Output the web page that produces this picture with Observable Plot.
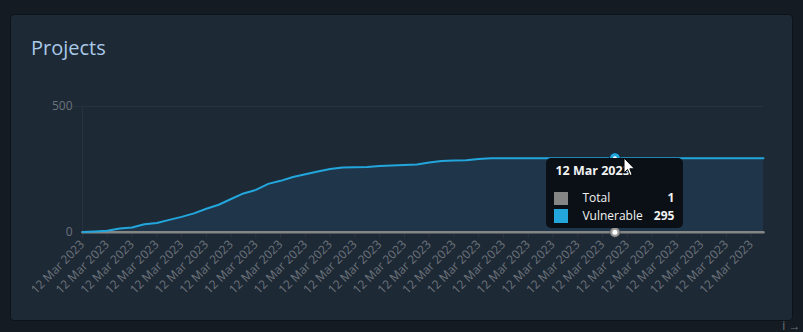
<!DOCTYPE html>
<html><head><meta charset="utf-8">
<script src="https://cdn.jsdelivr.net/npm/d3@7"></script>
<script src="https://cdn.jsdelivr.net/npm/@observablehq/plot@0.6"></script>
<style>
html,body{margin:0;padding:0;overflow:hidden}
::-webkit-scrollbar{display:none;width:0;height:0}
body{background:#141b23;width:803px;height:332px;position:relative;font-family:"Open Sans",sans-serif}
#card{position:absolute;left:10px;top:14px;width:781px;height:305px;background:#1e2936;border:1px solid #0d1319;border-radius:4px}
#title{position:absolute;left:31px;top:34px;font-size:20px;color:#a9c9e7;line-height:28px}
#chart{position:absolute;left:0;top:0;width:803px;height:332px;overflow:hidden}
#chart svg{display:block}
#tip{position:absolute;width:137px;height:70px;background:#0a1016;border-radius:5px;color:#f2f2f2;font-size:12px;line-height:14px}
#tip div{position:absolute;white-space:nowrap}
.sw{width:14px;height:13px}
#cursor{position:absolute}
</style>
</head><body>
<div id="card"></div>
<div id="title">Projects</div>
<div id="chart"></div>
<script>
// ---- data ----
const labels = ["12 Mar 2023","12 Mar 2023","12 Mar 2023","12 Mar 2023","12 Mar 2023","12 Mar 2023","12 Mar 2023","12 Mar 2023",
"12 Mar 2023","12 Mar 2023","12 Mar 2023","12 Mar 2023","12 Mar 2023","12 Mar 2023","12 Mar 2023","12 Mar 2023",
"12 Mar 2023","12 Mar 2023","12 Mar 2023","12 Mar 2023","12 Mar 2023","12 Mar 2023","12 Mar 2023","12 Mar 2023",
"12 Mar 2023","12 Mar 2023","12 Mar 2023","12 Mar 2023","12 Mar 2023","12 Mar 2023","12 Mar 2023","12 Mar 2023",
"12 Mar 2023","12 Mar 2023","12 Mar 2023","12 Mar 2023","12 Mar 2023","12 Mar 2023","12 Mar 2023","12 Mar 2023",
"12 Mar 2023","12 Mar 2023","12 Mar 2023","12 Mar 2023","12 Mar 2023","12 Mar 2023","12 Mar 2023","12 Mar 2023",
"12 Mar 2023","12 Mar 2023","12 Mar 2023","12 Mar 2023","12 Mar 2023","12 Mar 2023","12 Mar 2023","12 Mar 2023"];
const vulnerable = [2,4,7,16,20,33,38,50,62,76,94,110,133,155,169,193,205,220,231,242,252,258,259,260,264,266,268,270,278,284,286,287,
292,295,295,295,295,295,295,295,295,295,295,295,295,295,295,295,295,295,295,295,295,295,295,295];
const total = [1,1,1,1,1,1,1,1,1,1,1,1,1,1,1,1,1,1,1,1,1,1,1,1,1,1,1,1,1,1,1,1,
1,1,1,1,1,1,1,1,1,1,1,1,1,1,1,1,1,1,1,1,1,1,1,1];
const yTicks = [0, 500];
const xTickIdx = [0,2,4,6,8,10,12,14,16,18,20,22,24,26,28,30,32,34,36,38,40,42,44,46,48,50,52,54];
const hoverIndex = 43;
const seriesNames = ["Total", "Vulnerable"];
const seriesColors = ["#858585", "#22a6dc"];

const rows = labels.map((d, i) => ({i, label: d, v: vulnerable[i], t: total[i]}));
const hov = rows[hoverIndex];

const plot = Plot.plot({
  width: 803, height: 332,
  marginLeft: 82, marginRight: 40, marginTop: 106, marginBottom: 100,
  x: {domain: [0, labels.length - 1], axis: null},
  y: {domain: [0, 500], axis: null},
  style: {background: "transparent", fontFamily: "Open Sans, sans-serif", fontSize: "12px", color: "#6b737b"},
  marks: [
    Plot.ruleY([500], {x1: -0.75, x2: labels.length - 1, stroke: "#27323f", strokeWidth: 1}),
    Plot.ruleX([0], {y1: 0, y2: 500, stroke: "#27323f", strokeWidth: 1}),
    Plot.areaY(rows, {x: "i", y: "v", fill: "#1f3549", curve: "linear"}),
    Plot.axisX(xTickIdx, {tickRotate: -45, tickFormat: i => labels[i], tickSize: 6, tickPadding: 4, stroke: "#2a3542", fill: "#6d747b", fontSize: 12}),
    Plot.axisY(yTicks, {tickSize: 0, tickPadding: 10, fill: "#6b737b", fontSize: 12}),
    Plot.lineY(rows, {x: "i", y: "t", stroke: seriesColors[0], strokeWidth: 2.5}),
    Plot.lineY(rows, {x: "i", y: "v", stroke: seriesColors[1], strokeWidth: 2}),
    Plot.dot([hov], {x: "i", y: "v", r: 5.5, fill: seriesColors[1], stroke: "#0e2a40", strokeWidth: 1}),
    Plot.dot([hov], {x: "i", y: "v", r: 2, fill: "#ffffff"}),
    Plot.dot([hov], {x: "i", y: "t", r: 5, fill: "#9a9a9a", stroke: "#3a3a3a", strokeWidth: 0.5}),
    Plot.dot([hov], {x: "i", y: "t", r: 2.5, fill: "#ffffff"})
  ]
});
document.getElementById("chart").appendChild(plot);

// tooltip positioned from the scales
const sx = plot.scale("x").apply(hov.i);
const sy = plot.scale("y").apply(hov.v);
const tip = document.createElement("div");
tip.id = "tip";
tip.style.left = (sx - 68) + "px";
tip.style.top = sy + "px";
tip.innerHTML = `
  <div style="left:9px;top:6px;font-weight:700;font-size:12.5px">${hov.label}</div>
  <div class="sw" style="left:8px;top:34px;background:${seriesColors[0]}"></div>
  <div class="sw" style="left:8px;top:51px;height:14px;background:${seriesColors[1]}"></div>
  <div style="left:36px;top:33px">${seriesNames[0]}</div>
  <div style="left:36px;top:51px">${seriesNames[1]}</div>
  <div style="right:9px;top:33px;font-weight:700">${hov.t}</div>
  <div style="right:9px;top:51px;font-weight:700">${hov.v}</div>`;
document.body.appendChild(tip);

// mouse pointer near the hovered point
const cur = document.createElementNS("http://www.w3.org/2000/svg", "svg");
cur.setAttribute("id", "cursor");
cur.setAttribute("width", "14"); cur.setAttribute("height", "22");
cur.style.left = (sx + 9) + "px";
cur.style.top = (sy - 1) + "px";
cur.innerHTML = '<path d="M1,1 L1,16 L4.5,12.5 L7,18.5 L9.2,17.6 L6.8,11.8 L11.5,11.8 Z" fill="#fff" stroke="#000" stroke-width="1"/>';
document.body.appendChild(cur);
</script>
</body></html>
